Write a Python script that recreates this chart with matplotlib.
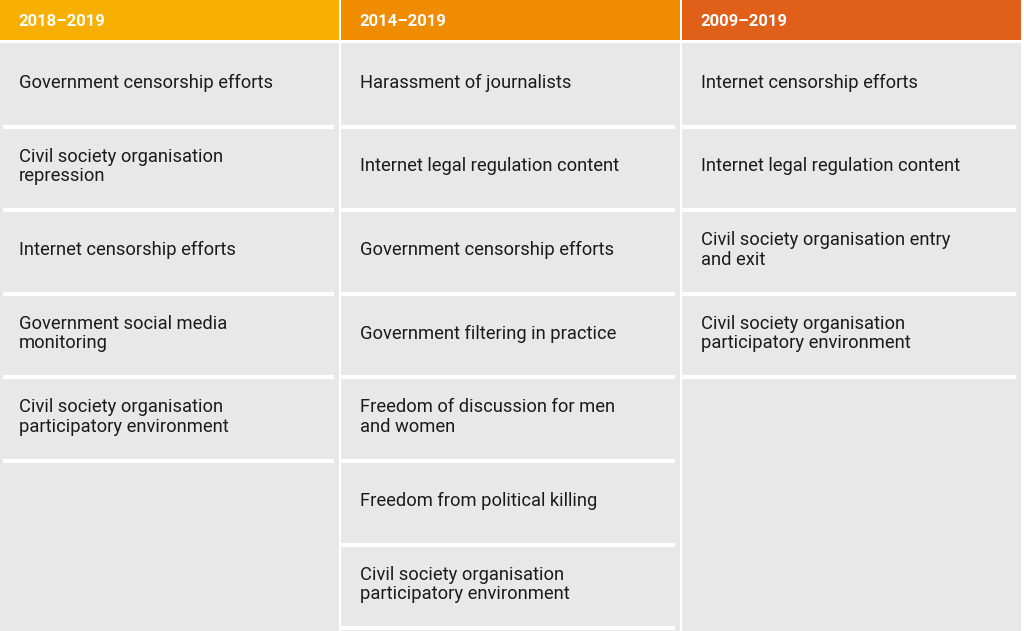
import matplotlib
matplotlib.use("Agg")
import matplotlib.pyplot as plt
from matplotlib.patches import Rectangle

headers = ["2018–2019", "2014–2019", "2009–2019"]
header_colors = ["#F7B000", "#EF8C00", "#E0601A"]
columns = [
    ["Government censorship efforts",
     "Civil society organisation\nrepression",
     "Internet censorship efforts",
     "Government social media\nmonitoring",
     "Civil society organisation\nparticipatory environment"],
    ["Harassment of journalists",
     "Internet legal regulation content",
     "Government censorship efforts",
     "Government filtering in practice",
     "Freedom of discussion for men\nand women",
     "Freedom from political killing",
     "Civil society organisation\nparticipatory environment"],
    ["Internet censorship efforts",
     "Internet legal regulation content",
     "Civil society organisation entry\nand exit",
     "Civil society organisation\nparticipatory environment"],
]

W, H = 1024, 631
fig = plt.figure(figsize=(W/100, H/100), dpi=100)
ax = fig.add_axes([0, 0, 1, 1])
ax.set_xlim(0, W); ax.set_ylim(H, 0); ax.axis("off")
fig.patch.set_facecolor("white")

col_x = [0, 341, 682]
col_w = 339
head_h = 40
top = 43
row_h = 83.6
gray = "#E8E8E8"

for i, (hdr, col) in enumerate(zip(headers, columns)):
    x = col_x[i]
    ax.add_patch(Rectangle((x, 0), col_w, head_h, facecolor=header_colors[i], edgecolor="none"))
    ax.text(x + 18, head_h/2 + 1, hdr, color="white", fontsize=12, fontweight="bold",
            family="Roboto", va="center", ha="left")
    ax.add_patch(Rectangle((x, top), col_w, H - top, facecolor=gray, edgecolor="none"))
    for j, label in enumerate(col):
        y0 = top + j*row_h
        ax.text(x + 19, y0 + row_h/2 - 2, label, fontsize=13.2, family="Roboto",
                color="#1a1a1a", va="center", ha="left", linespacing=1.1)
        ax.plot([x + (3 if i == 0 else 0), x + col_w - 5], [y0 + row_h, y0 + row_h],
                color="white", lw=3, solid_capstyle="butt")

fig.savefig("out.png", dpi=100, facecolor="white")
